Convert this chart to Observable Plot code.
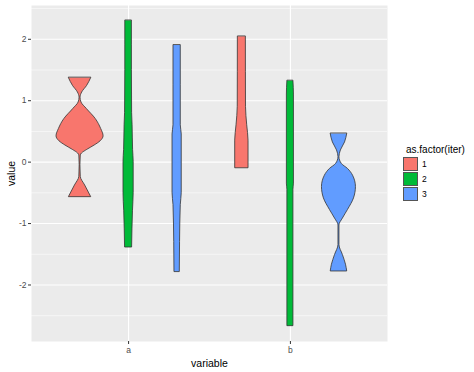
<!DOCTYPE html>
<html>
<head>
<meta charset="utf-8">
<script src="https://cdn.jsdelivr.net/npm/d3@7"></script>
<script src="https://cdn.jsdelivr.net/npm/@observablehq/plot@0.6"></script>
<style>
  body { margin: 0; background: white; }
  #wrap { position: relative; width: 474px; height: 372px; font-family: "Liberation Sans", Arial, sans-serif; }
  #legend { position: absolute; left: 403px; top: 143px; }
  #legend .title { font-size: 10px; color: #000; margin-left: 3px; height: 13px; line-height: 13px; }
  #legend .row { display: flex; align-items: center; height: 15px; margin-bottom: 0px; }
  #legend .key { width: 15px; height: 14px; box-sizing: border-box; border: 1px solid #555; }
  #legend .lab { font-size: 8.5px; color: #000; margin-left: 4px; }
</style>
</head>
<body>
<div id="wrap"></div>
<script>
// categories
const variables = ["a", "b"];
const iterLevels = [1, 2, 3];
const iterColors = ["#F8766D", "#00BA38", "#619CFF"];
const yTicks = [-2, -1, 0, 1, 2];
const yTickLabels = ["-2", "-1", "0", "1", "2"];
const yMinor = [-2.5, -1.5, -0.5, 0.5, 1.5, 2.5];

// violin outlines: value and relative half-width (density)
const a1Value = [1.37, 1.24, 1.135, 1.05, 0.97, 0.865, 0.70, 0.54, 0.42, 0.34, 0.27, 0.20, 0.14, 0.11, -0.05, -0.24, -0.38, -0.57];
const a1Width = [0.46, 0.29, 0.09, 0.02, 0.06, 0.28, 0.65, 0.87, 0.97, 0.85, 0.60, 0.30, 0.08, 0.03, 0.015, 0.03, 0.21, 0.46];
const a2Value = [2.30, 1.5, 0.8, 0.6, 0.2, 0.0, -0.5, -0.8, -1.39];
const a2Width = [0.136, 0.136, 0.145, 0.165, 0.185, 0.21, 0.21, 0.18, 0.145];
const a3Value = [1.90, 0.6, 0.45, -0.5, -0.7, -1.3, -1.79];
const a3Width = [0.15, 0.15, 0.19, 0.19, 0.15, 0.12, 0.11];
const b1Value = [2.04, 0.9, 0.6, 0.35, -0.10];
const b1Width = [0.165, 0.17, 0.22, 0.275, 0.275];
const b2Value = [1.32, 1.1, -0.35, -0.45, -2.67];
const b2Width = [0.125, 0.145, 0.145, 0.125, 0.125];
const b3Value = [0.46, 0.32, 0.19, 0.08, -0.03, -0.11, -0.22, -0.405, -0.59, -0.78, -0.92, -1.03, -1.35, -1.51, -1.67, -1.78];
const b3Width = [0.34, 0.25, 0.08, 0.02, 0.12, 0.37, 0.58, 0.70, 0.62, 0.37, 0.16, 0.02, 0.02, 0.16, 0.29, 0.34];

const groups = [
  {variable: "a", iter: 1, values: a1Value, widths: a1Width},
  {variable: "a", iter: 2, values: a2Value, widths: a2Width},
  {variable: "a", iter: 3, values: a3Value, widths: a3Width},
  {variable: "b", iter: 1, values: b1Value, widths: b1Width},
  {variable: "b", iter: 2, values: b2Value, widths: b2Width},
  {variable: "b", iter: 3, values: b3Value, widths: b3Width}
];

const dodgeWidth = 0.9;
const groupWidth = dodgeWidth / iterLevels.length;
const rows = [];
for (const g of groups) {
  const center = variables.indexOf(g.variable) + 1 + (iterLevels.indexOf(g.iter) - (iterLevels.length - 1) / 2) * groupWidth;
  const pts = g.values.map((v, i) => ({v, w: g.widths[i]})).sort((p, q) => q.v - p.v);
  for (const p of pts) {
    rows.push({key: g.variable + g.iter, variable: g.variable, iter: g.iter, value: p.v, center, half: p.w * groupWidth / 2});
  }
}

const chart = Plot.plot({
  width: 474,
  height: 372,
  marginLeft: 31,
  marginRight: 87,
  marginTop: 5,
  marginBottom: 31,
  style: {fontFamily: "'Liberation Sans', Arial, sans-serif", fontSize: "8px", background: "white", color: "#4D4D4D"},
  x: {type: "linear", domain: [0.4, 2.6]},
  y: {domain: [-2.92, 2.55]},
  color: {type: "ordinal", domain: iterLevels, range: iterColors},
  marks: [
    Plot.frame({fill: "#EBEBEB", stroke: null}),
    Plot.gridY(yMinor, {stroke: "white", strokeOpacity: 1, strokeWidth: 0.55}),
    Plot.gridY(yTicks, {stroke: "white", strokeOpacity: 1, strokeWidth: 1.1}),
    Plot.gridX([1, 2], {stroke: "white", strokeOpacity: 1, strokeWidth: 1.1}),
    Plot.areaX(rows, {
      y: "value",
      x1: d => d.center - d.half,
      x2: d => d.center + d.half,
      z: "key",
      fill: "iter",
      stroke: "#333333",
      strokeWidth: 0.8,
      curve: "monotone-y"
    }),
    Plot.axisX([1, 2], {tickFormat: d => variables[d - 1], tickSize: 3, tickPadding: 2, label: null, stroke: "#333333", fill: "#4D4D4D", fontSize: 8.5}),
    Plot.axisY(yTicks, {tickFormat: d => yTickLabels[yTicks.indexOf(d)], tickSize: 3, tickPadding: 2, label: null, stroke: "#333333", fill: "#4D4D4D", fontSize: 8.5}),
    Plot.text(["value"], {text: d => d, frameAnchor: "left", dx: -20, rotate: -90, textAnchor: "middle", lineAnchor: "middle", fontSize: 10.5, fill: "black"}),
    Plot.text(["variable"], {text: d => d, frameAnchor: "bottom", dy: 22, textAnchor: "middle", lineAnchor: "middle", fontSize: 10.5, fill: "black"})
  ]
});

const wrap = document.getElementById("wrap");
wrap.appendChild(chart);

// legend built from the chart's color scale
const colorScale = chart.scale("color");
const legend = document.createElement("div");
legend.id = "legend";
const title = document.createElement("div");
title.className = "title";
title.textContent = "as.factor(iter)";
legend.appendChild(title);
for (const it of iterLevels) {
  const row = document.createElement("div");
  row.className = "row";
  const key = document.createElement("div");
  key.className = "key";
  key.style.background = colorScale.apply(it);
  const lab = document.createElement("span");
  lab.className = "lab";
  lab.textContent = String(it);
  row.appendChild(key);
  row.appendChild(lab);
  legend.appendChild(row);
}
wrap.appendChild(legend);
</script>
</body>
</html>
